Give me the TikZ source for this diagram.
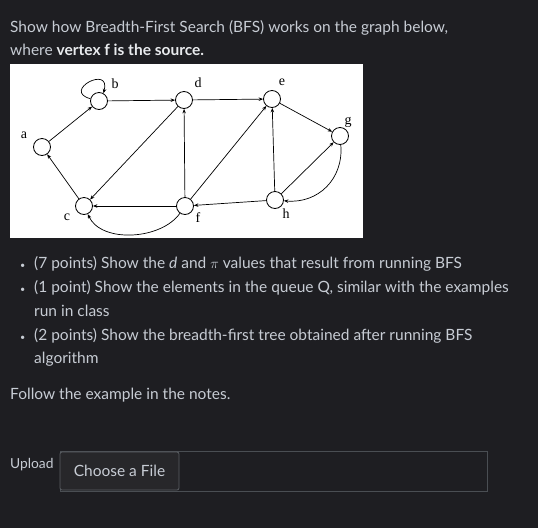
\documentclass[tikz,border=0pt]{standalone}
\usepackage{fontspec}
\setmainfont{Lato}
\newfontfamily\graphfont{Liberation Serif}
\usetikzlibrary{arrows.meta}
\definecolor{pagebg}{HTML}{1E1E22}
\definecolor{pagetext}{HTML}{C7CCD4}
\definecolor{boldtext}{HTML}{E8EAED}
\definecolor{btnfill}{HTML}{27272A}
\definecolor{btnline}{HTML}{5A5E63}
\definecolor{fieldline}{HTML}{4A4E53}

\begin{document}
\begin{tikzpicture}[x=1pt,y=1pt,
    txt/.style={anchor=base west,inner sep=0pt,text=pagetext,font=\fontsize{15.5}{18}\selectfont},
    vert/.style={circle,draw,line width=0.8pt,minimum size=17pt,inner sep=0pt},
    vlabel/.style={inner sep=0pt,font=\graphfont\fontsize{14}{14}\selectfont},
    arc/.style={line width=0.7pt,-{Stealth[length=4.5pt,width=3.5pt]}}]
  \fill[pagebg] (0,0) rectangle (538,-528);
  \useasboundingbox (0,0) rectangle (538,-528);

  % question text
  \node[txt] (l1) at (10,-32) {Show how Breadth-First Search (BFS) works on the graph below,};
  \node[txt] (l2) at (10,-55) {where \textbf{\color{boldtext}vertex f is the source.}};

  % graph picture
  \fill[white] (10,-64) rectangle (363,-238);
  \foreach \n/\x/\y in {a/42/147,b/99/101,c/84/206,d/184/100,e/272/99,f/185/206,g/340/136,h/275/200} {
    \node[vert] (\n) at (\x,-\y) {};
  }
  \foreach \n/\x/\y in {a/24/135,b/115/84,c/67/217,d/198/83,e/282/82,f/198/218,g/348/122,h/286/214} {
    \node[vlabel] (lab\n) at (\x,-\y) {\n};
  }
  \foreach \s/\t in {a/b,b/d,d/e,e/g,d/c,f/d,f/e,f/c,c/a,h/e,h/g,h/f} {
    \draw[arc] (\s) -- (\t);
  }
  \draw[arc] (b.165) .. controls +(165:30) and +(75:30) .. (b.60);
  \draw[arc] (f) to[out=235,in=-65,looseness=0.9] (c);
  \draw[arc] (g) to[out=-85,in=-5,looseness=1.1] (h);

  % bullet list
  \foreach \y/\t in {268/{(7 points) Show the \textit{d} and $\pi$ values that result from running BFS},
                     292/{(1 point) Show the elements in the queue Q, similar with the examples},
                     340/{(2 points) Show the breadth-first tree obtained after running BFS}} {
    \node[txt,font=\fontsize{9}{9}\selectfont] (dot\y) at (20,-\y) {•};
    \node[txt] (item\y) at (34,-\y) {\t};
  }
  \node[txt] (run) at (34,-316) {run in class};
  \node[txt] (alg) at (34,-363) {algorithm};
  \node[txt] (foll) at (10,-399) {Follow the example in the notes.};

  % upload field
  \node[txt,font=\fontsize{13.8}{16}\selectfont] (upl) at (10,-468) {Upload};
  \draw[fieldline,line width=0.8pt] (60,-451) rectangle (487,-491);
  \draw[btnline,fill=btnfill,line width=0.8pt,rounded corners=2pt] (60,-452) rectangle (179,-490);
  \node[txt,anchor=base] (choose) at (119.5,-476) {Choose a File};
\end{tikzpicture}
\end{document}
